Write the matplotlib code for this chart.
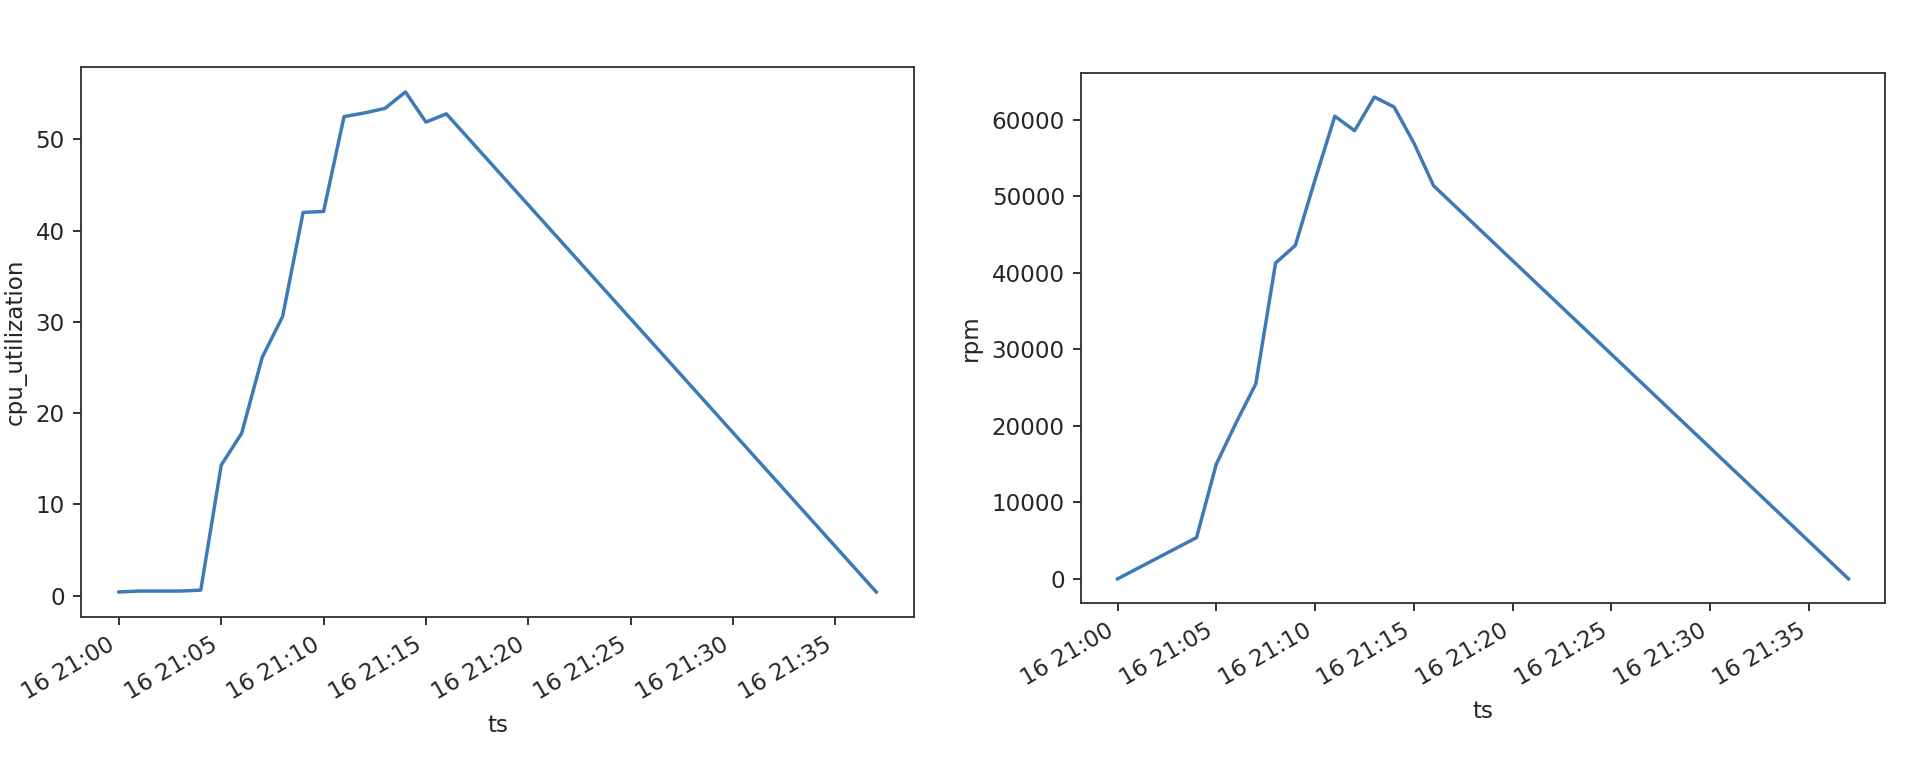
"""
Two side-by-side time series: cpu_utilization and rpm over ts.
"""

import pandas as pd
import matplotlib
matplotlib.use("Agg")
import matplotlib.pyplot as plt
import matplotlib.dates as mdates


# ---------------------------------------------------------------------------
# Data
# ---------------------------------------------------------------------------

cpu_ts = ["21:00", "21:01", "21:02", "21:03", "21:04", "21:05", "21:06",
          "21:07", "21:08", "21:09", "21:10", "21:11", "21:12", "21:13",
          "21:14", "21:15", "21:16", "21:37"]
cpu_utilization = [0.4, 0.5, 0.5, 0.5, 0.6, 14.3, 17.8,
                   26.1, 30.6, 42.0, 42.1, 52.5, 52.9, 53.4,
                   55.2, 51.9, 52.8, 0.4]

rpm_ts = ["21:00", "21:04", "21:05", "21:06", "21:07", "21:08", "21:09",
          "21:10", "21:11", "21:12", "21:13", "21:14", "21:15", "21:16",
          "21:37"]
rpm = [0, 5400, 15000, 20400, 25500, 41300, 43600,
       52200, 60500, 58600, 63000, 61700, 57000, 51400,
       0]

DAY = "2023-03-16 "

# scale factor of the screenshot relative to default matplotlib sizes
S = 1.66

plt.rcParams.update({
    "font.size": 10 * S,
    "axes.linewidth": 0.8 * S,
    "xtick.major.size": 3.5 * S,
    "ytick.major.size": 3.5 * S,
    "xtick.major.width": 0.8 * S,
    "ytick.major.width": 0.8 * S,
    "xtick.major.pad": 3.5 * S,
    "ytick.major.pad": 3.5 * S,
    "axes.labelpad": 4.0 * S,
    "text.color": "#262626",
    "axes.labelcolor": "#262626",
    "xtick.color": "#262626",
    "ytick.color": "#262626",
    "axes.edgecolor": "#333333",
})

LINE = "#3d7ab6"


def ts_plot(ax, times, values, ylabel):
    x = pd.to_datetime([DAY + t for t in times])
    ax.plot(x, values, color=LINE, lw=1.5 * S)
    ax.set_xlabel("ts")
    ax.set_ylabel(ylabel)
    ax.xaxis.set_major_locator(mdates.MinuteLocator(byminute=range(0, 60, 5)))
    ax.xaxis.set_major_formatter(mdates.DateFormatter("%d %H:%M"))
    for lbl in ax.get_xticklabels():
        lbl.set_rotation(30)
        lbl.set_ha("right")


fig = plt.figure(figsize=(19.2, 7.6), dpi=100)
ax1 = fig.add_axes([0.0422, 0.1882, 0.4339, 0.7237])
ax2 = fig.add_axes([0.5630, 0.2066, 0.4188, 0.6974])

ts_plot(ax1, cpu_ts, cpu_utilization, "cpu_utilization")
ts_plot(ax2, rpm_ts, rpm, "rpm")

fig.savefig("out.png", dpi=100)
